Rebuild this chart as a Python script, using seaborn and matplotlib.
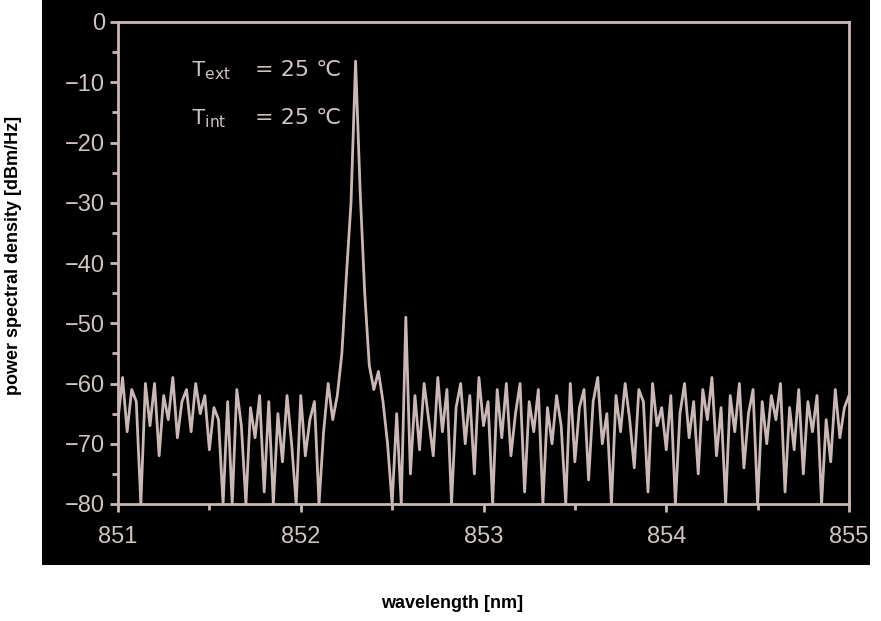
import matplotlib
matplotlib.use("Agg")
import matplotlib.pyplot as plt
import numpy as np
import pandas as pd
import seaborn as sns
from matplotlib.ticker import MultipleLocator

# power spectral density [dBm/Hz], sampled every 0.025 nm from 851 to 855 nm
psd = [
    -66, -59, -68, -61, -63, -80, -60, -67,
    -60, -72, -62, -66, -59, -69, -63, -61,
    -68, -60, -65, -62, -71, -64, -66, -80,
    -63, -80, -61, -67, -80, -64, -69, -62,
    -78, -63, -80, -65, -73, -62, -70, -80,
    -62, -72, -66, -63, -80, -68, -60, -66,
    -62, -55, -42, -30, -6.5, -28, -45, -57,
    -61, -58, -63, -70, -80, -65, -80, -49,
    -75, -62, -71, -60, -66, -72, -59, -68,
    -61, -80, -64, -60, -70, -62, -75, -59,
    -67, -63, -80, -61, -69, -60, -72, -65,
    -60, -78, -63, -68, -61, -80, -64, -70,
    -62, -67, -80, -60, -73, -64, -61, -76,
    -63, -59, -70, -65, -80, -62, -68, -60,
    -66, -74, -61, -63, -78, -60, -67, -64,
    -71, -62, -80, -65, -60, -69, -63, -75,
    -61, -66, -59, -72, -64, -80, -62, -68,
    -60, -74, -65, -61, -80, -63, -70, -62,
    -66, -60, -78, -64, -71, -61, -75, -63,
    -68, -62, -80, -66, -73, -61, -69, -64,
    -62,
]
wavelength = np.linspace(851, 855, len(psd))

LINE = "#c9b8b6"
plt.rcParams["font.family"] = ["Liberation Sans", "DejaVu Sans"]

fig = plt.figure(figsize=(8.81, 6.21), dpi=100, facecolor="white")
bg = fig.add_axes([42 / 881, 56 / 621, 828 / 881, 565 / 621], zorder=0)
bg.set_facecolor("black")
bg.set_xticks([])
bg.set_yticks([])
for s in bg.spines.values():
    s.set_visible(False)

ax = fig.add_axes([118 / 881, 117 / 621, 731 / 881, 482 / 621], zorder=1)
ax.set_facecolor("black")

df = pd.DataFrame({"wavelength": wavelength, "psd": psd})
sns.lineplot(data=df, x="wavelength", y="psd", color=LINE, lw=2, ax=ax)

ax.set_xlim(851, 855)
ax.set_ylim(-80, 0)
ax.xaxis.set_major_locator(MultipleLocator(1))
ax.xaxis.set_minor_locator(MultipleLocator(0.5))
ax.yaxis.set_major_locator(MultipleLocator(10))
ax.yaxis.set_minor_locator(MultipleLocator(5))
for s in ax.spines.values():
    s.set_color(LINE)
    s.set_linewidth(2)
ax.tick_params(which="both", colors=LINE, labelcolor="#d0c4c2", labelsize=17, width=2)
ax.tick_params(which="major", length=6)
ax.tick_params(which="minor", length=4)
ax.tick_params(axis="x", pad=10)

ax.set_xlabel("")
ax.set_ylabel("")
fig.text(452 / 881, 1 - 603 / 621, "wavelength [nm]", ha="center", va="center",
         fontsize=13, fontweight="bold", color="black")
fig.text(14 / 881, 1 - 255 / 621, "power spectral density [dBm/Hz]", ha="center",
         va="center", rotation=90, fontsize=13, fontweight="bold", color="black")

ax.text(851.4, -8, r"T$_{\mathrm{ext}}$", color="#d0c4c2", fontsize=16, va="center")
ax.text(851.75, -8, "= 25 ℃", color="#d0c4c2", fontsize=16, va="center",
        family=["DejaVu Sans"])
ax.text(851.4, -16, r"T$_{\mathrm{int}}$", color="#d0c4c2", fontsize=16, va="center")
ax.text(851.75, -16, "= 25 ℃", color="#d0c4c2", fontsize=16, va="center",
        family=["DejaVu Sans"])

fig.savefig("out.png", dpi=100, facecolor="white")
